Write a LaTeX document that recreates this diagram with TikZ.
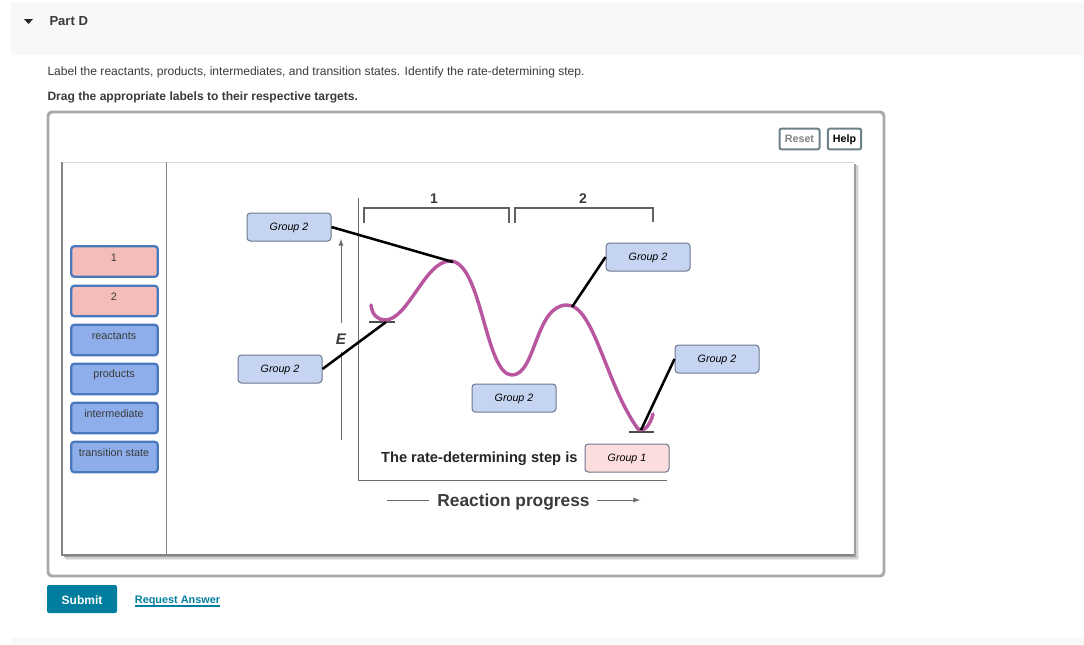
\documentclass[tikz,border=0pt]{standalone}
\usepackage{fontspec}
\setmainfont{Liberation Sans}
\definecolor{bandgray}{HTML}{F8F8F8}
\definecolor{textgray}{HTML}{3A3A3A}
\definecolor{framegray}{HTML}{A8A8A8}
\definecolor{panelgray}{HTML}{858585}
\definecolor{groupblue}{HTML}{C4D4F1}
\definecolor{groupedge}{HTML}{6F7890}
\definecolor{grouppink}{HTML}{FBDDDD}
\definecolor{tilepink}{HTML}{F5BDB9}
\definecolor{tileblue}{HTML}{8DAEEA}
\definecolor{tileedge}{HTML}{4A78BC}
\definecolor{curvepink}{HTML}{B8569F}
\definecolor{submitteal}{HTML}{007E9F}
\definecolor{buttonedge}{HTML}{6C8088}
\tikzset{every picture/.style={line width=0.75pt}}
\tikzset{
  groupbox/.style={draw=groupedge,fill=groupblue,rounded corners=2.5pt,minimum width=63pt,minimum height=21pt,inner sep=0pt,text height=5.8pt,text depth=0pt,font=\fontsize{8}{9}\itshape\selectfont,text=black},
  ratebox/.style={groupbox,fill=grouppink},
  tilebox/.style={draw=tileedge,line width=1.7pt,rounded corners=2.5pt,minimum width=65pt,minimum height=23pt,inner sep=0pt},
  tiletext/.style={inner sep=0pt,font=\fontsize{8.1}{9}\selectfont,text=textgray},
  btnbox/.style={draw=buttonedge,line width=1.5pt,fill=white,rounded corners=1.5pt,minimum height=15.5pt,inner sep=0pt,text height=5.8pt,text depth=0pt,font=\fontsize{8}{9}\bfseries\selectfont},
  link/.style={line width=1.9pt,black},
  thinline/.style={line width=0.75pt,draw=black!58},
  bracketline/.style={line width=1pt,draw=black!62}
}

\begin{document}
\begin{tikzpicture}[x=0.75pt,y=0.75pt,yscale=-1,xscale=1]
\useasboundingbox (0,0) rectangle (1084,644);

% Page bands
\fill [bandgray] (11,2) rectangle (1084,55) ;
\fill [bandgray] (11,638) rectangle (1084,644) ;
\fill [black!85] (24,19) -- (33,19) -- (28.5,24) -- cycle ;

% Text Node
\draw (49,21) node (partHead) [anchor=west,inner sep=0pt,text height=6.4pt,text depth=0pt,font=\fontsize{9.8}{11}\bfseries\selectfont,text=textgray] {Part D};
% Text Node
\draw (47,71.5) node (taskLine) [anchor=west,inner sep=0pt,text height=6pt,text depth=0pt,font=\fontsize{9.05}{11}\selectfont,text=textgray] {Label the reactants, products, intermediates, and transition states. Identify the rate-determining step.};
% Text Node
\draw (47,96) node (dragLine) [anchor=west,inner sep=0pt,text height=6pt,text depth=0pt,font=\fontsize{9.05}{11}\bfseries\selectfont,text=textgray] {Drag the appropriate labels to their respective targets.};

% Outer frame
\draw [framegray,line width=2.2pt,rounded corners=3pt] (48,112) rectangle (884,576) ;
% Inner panel with its shadow
\fill [black!8] (66,166) rectangle (859,560) ;
\fill [black!18] (65,165) rectangle (857.5,558.5) ;
\fill [black!38] (64,164) rectangle (856,557) ;
\fill [white] (62,162) rectangle (854,555) ;
\draw [black!15] (62,162) -- (854,162) ;
\draw [panelgray,line width=2.2pt] (62,162) -- (62,555) -- (854,555) ;
\draw [panelgray] (166,162) -- (166,555) ;

% Buttons
\draw (799.5,139) node (btnReset) [btnbox,minimum width=30pt,text=black!50] {Reset};
\draw (844.5,139) node (btnHelp) [btnbox,minimum width=25pt] {Help};

% Label tiles
\draw (114.5,261.5) node (tileOne) [tilebox,fill=tilepink] {};
\draw (114.5,301) node (tileTwo) [tilebox,fill=tilepink] {};
\draw (114.5,340) node (tileReact) [tilebox,fill=tileblue] {};
\draw (114.5,379) node (tileProd) [tilebox,fill=tileblue] {};
\draw (114.5,418) node (tileInter) [tilebox,fill=tileblue] {};
\draw (114.5,457) node (tileTrans) [tilebox,fill=tileblue] {};
% Text Node
\draw (114,258) node (txtOne) [tiletext] {1};
\draw (114,297) node (txtTwo) [tiletext] {2};
\draw (114,336) node (txtReact) [tiletext] {reactants};
\draw (114,375) node (txtProd) [tiletext] {products};
\draw (114,414) node (txtInter) [tiletext] {intermediate};
\draw (114,453) node (txtTrans) [tiletext] {transition state};

% Axes
\draw [thinline] (358,198) -- (358,480) -- (667,480) ;
\draw [thinline,-latex] (341,323) -- (341,239) ;
\draw [thinline] (341,352) -- (341,440) ;
\draw (341,339) node (axisE) [inner sep=0pt,font=\fontsize{11.5}{13}\bfseries\itshape\selectfont,text=textgray] {E};

% Brackets
\draw [bracketline] (364,223) -- (364,208) -- (509,208) -- (509,223) ;
\draw [bracketline] (515,223) -- (515,208) -- (653,208) -- (653,222) ;
\draw (434,199) node (stepOne) [inner sep=0pt,font=\fontsize{10.5}{12}\bfseries\selectfont,text=textgray] {1};
\draw (583,199) node (stepTwo) [inner sep=0pt,font=\fontsize{10.5}{12}\bfseries\selectfont,text=textgray] {2};

% Level ticks
\draw [line width=1pt,black!70] (369,322) -- (395,322) ;
\draw [line width=1.5pt,black!70] (629,432) -- (654,432) ;

%Curve Lines
\draw [curvepink,line width=2.6pt,line cap=round] (371,305) .. controls (372,315) and (378,320) .. (385,320) .. controls (408,320) and (425,261) .. (450,261) .. controls (482,261) and (485,375) .. (512,375) .. controls (536,375) and (535,305) .. (567,305) .. controls (594,305) and (606,385) .. (638,429) .. controls (645,432) and (650,425) .. (653,414) ;

% Curve targets
\coordinate (peakOne) at (453,262);
\coordinate (peakTwo) at (572,307);
\coordinate (wellStart) at (386,322);
\coordinate (wellEnd) at (641,430);

% Text Node
\draw (289,227) node (grpPeakOne) [groupbox] {Group 2};
\draw (648,257) node (grpPeakTwo) [groupbox] {Group 2};
\draw (280,369) node (grpStart) [groupbox] {Group 2};
\draw (514,398) node (grpValley) [groupbox] {Group 2};
\draw (717,359) node (grpEnd) [groupbox] {Group 2};
\draw (627,458) node (grpRate) [ratebox] {Group 1};

% Connectors
\draw [link] (grpPeakOne.east) -- (peakOne) ;
\draw [link] (grpPeakTwo.west) -- (peakTwo) ;
\draw [link] (grpStart.east) -- (wellStart) ;
\draw [link] (grpEnd.west) -- (wellEnd) ;

% Text Node
\draw (578,457) node (rateText) [anchor=east,inner sep=0pt,text height=8pt,text depth=0pt,font=\fontsize{11}{13}\bfseries\selectfont,text=black!85] {The rate-determining step is};
% Text Node
\draw (513.5,500) node (xLabel) [inner sep=0pt,text height=9pt,text depth=0pt,font=\fontsize{13}{15}\bfseries\selectfont,text=textgray] {Reaction progress};
\draw [thinline] (xLabel.west) ++(-8,0) -- ++(-42,0) ;
\draw [thinline,-latex] (xLabel.east) ++(7,0) -- ++(43,0) ;

% Footer
\fill [submitteal,rounded corners=1.5pt] (47,585) rectangle (117,613) ;
\draw (82,600) node (submitText) [inner sep=0pt,text height=6.5pt,text depth=0pt,font=\fontsize{9}{11}\bfseries\selectfont,text=white] {Submit};
\draw (177.5,599) node (answerText) [inner sep=0pt,text height=6pt,text depth=0pt,font=\fontsize{8.15}{10}\bfseries\selectfont,text=submitteal] {Request Answer};
\draw [submitteal,line width=1.4pt] (135,606) -- (220,606) ;

\end{tikzpicture}
\end{document}
